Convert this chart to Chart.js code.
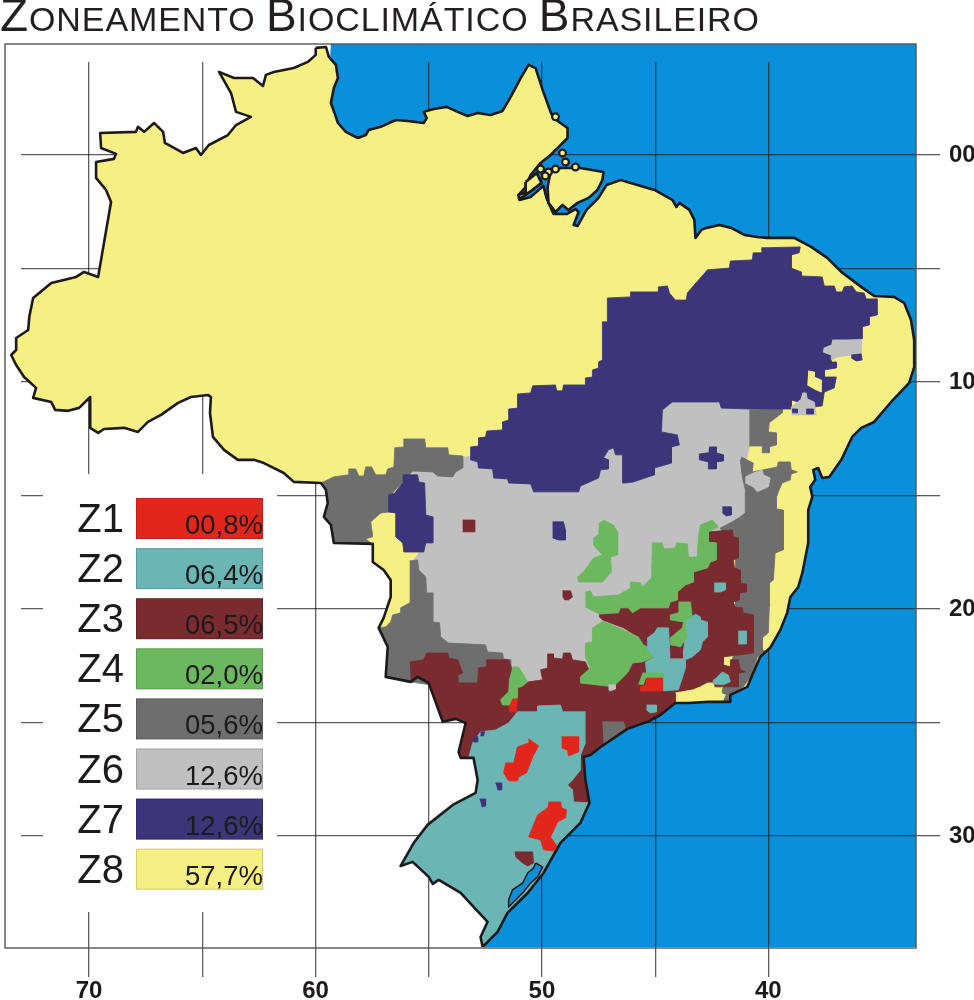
<!DOCTYPE html>
<html>
<head>
<meta charset="utf-8">
<title>Zoneamento Bioclimático Brasileiro</title>
<script src="https://cdn.jsdelivr.net/npm/chart.js@4/dist/chart.umd.min.js"></script>
<style>
  html, body { margin: 0; background: #fff; }
  #wrap { position: relative; width: 974px; height: 1000px; overflow: hidden; }
  #title { position: absolute; left: 0; top: -10px; margin: 0; white-space: nowrap; font: normal 34px/50px "Liberation Sans", sans-serif; color: #231f20; letter-spacing: 0.9px; }
  #title b { font-weight: normal; font-size: 46px; }
  canvas { position: absolute; left: 0; top: 0; }
</style>
</head>
<body>
<div id="wrap">
  <canvas id="chart1" width="974" height="1000"></canvas>
  <h1 id="title"><b>Z</b>ONEAMENTO <b>B</b>IOCLIMÁTICO <b>B</b>RASILEIRO</h1>
</div>
<script>
// legend
const zoneNames = ['Z1', 'Z2', 'Z3', 'Z4', 'Z5', 'Z6', 'Z7', 'Z8'];
const zoneShares = ['00,8%', '06,4%', '06,5%', '02,0%', '05,6%', '12,6%', '12,6%', '57,7%'];
const zoneColors = ['#e1261c', '#6bb5b5', '#7a2b30', '#6cb85f', '#6e6e6e', '#c0c0c0', '#3c3579', '#f5ef84'];

// axes, degrees west / degrees south
const lonTicks = [70, 65, 60, 55, 50, 45, 40];
const lonLabels = ['70', '', '60', '', '50', '', '40'];
const latTicks = [0, 5, 10, 15, 20, 25, 30];
const latLabels = ['00', '', '10', '', '20', '', '30'];

// every shape is [lon, lat]
const oceanShape = [[59.32,-4.89],[33.48,-4.89],[33.48,34.89],[52.62,34.89],[52.27,33.92],[51.82,31.93],[51.82,19.60],[58.66,1.98],[59.46,-2.43]];

const brazil = [[59.99,-4.72],[59.54,-4.76],[59.41,-4.32],[59.10,-3.97],[59.01,-3.39],[59.19,-2.95],[59.32,-2.29],[59.10,-1.68],[59.01,-1.41],[58.66,-1.02],[58.13,-0.75],[57.78,-0.88],[57.65,-1.10],[57.12,-1.24],[56.46,-1.54],[55.93,-1.50],[55.22,-1.41],[55.09,-1.63],[55.22,-1.90],[54.78,-2.03],[54.21,-2.12],[53.72,-1.90],[53.28,-1.72],[52.84,-1.85],[52.27,-1.76],[51.74,-1.94],[51.38,-2.56],[50.94,-3.39],[50.59,-3.97],[50.28,-3.83],[49.97,-2.87],[49.62,-1.90],[49.49,-1.63],[48.87,-1.19],[48.87,-0.75],[49.27,-0.35],[49.62,0],[50.06,0.35],[50.50,0.88],[50.72,1.41],[51.03,1.76],[50.99,1.98],[50.50,1.85],[49.93,1.36],[49.80,1.89],[49.49,2.60],[48.91,2.60],[48.52,2.38],[48.38,2.51],[48.60,3.08],[48.43,3.13],[48.03,2.42],[47.50,1.89],[47.15,1.32],[46.53,1.10],[45.78,1.32],[45.03,1.54],[44.24,1.98],[44.06,2.29],[43.93,2.11],[43.49,2.42],[43.27,2.86],[43.22,3.65],[42.96,3.30],[42.74,3.21],[42.16,3.08],[41.64,3.21],[41.06,3.52],[40.49,3.61],[40.05,3.65],[38.86,3.65],[38.11,4.05],[37.40,4.53],[36.78,5.15],[35.90,5.81],[35.33,6.21],[34.45,6.25],[34.00,6.52],[33.70,7.27],[33.56,8.15],[33.56,9.34],[33.78,10.04],[34.58,10.88],[35.33,11.76],[35.90,12.02],[36.30,12.42],[36.78,13.43],[37.31,14.18],[37.62,14.23],[37.80,13.79],[38.02,13.87],[37.93,14.31],[38.15,14.62],[38.06,15.06],[38.24,15.64],[38.24,17.09],[38.50,18.41],[38.68,19.03],[39.03,19.47],[39.17,20.17],[39.47,20.92],[39.92,21.71],[40.36,22.11],[40.67,22.82],[40.93,23.43],[41.68,23.78],[41.68,24.09],[42.12,24.09],[42.69,24.09],[43.53,24.14],[44.11,24.14],[44.77,24.67],[45.34,24.97],[46.22,25.28],[47.41,26.08],[47.86,26.43],[48.16,26.52],[48.08,27.53],[47.90,28.54],[48.30,29.42],[49.18,30.30],[49.93,31.63],[50.63,32.51],[51.52,33.39],[51.96,34.22],[52.62,34.89],[52.71,34.45],[52.40,33.78],[53.02,33.12],[53.59,32.51],[54.56,31.93],[54.82,32.11],[55.00,31.80],[55.71,31.14],[56.24,31.32],[55.66,30.30],[55.05,29.51],[53.94,28.63],[52.93,28.10],[52.84,27.53],[53.02,26.56],[53.59,26.56],[53.68,26.30],[53.37,25.02],[53.81,24.84],[54.38,24.97],[54.60,24.36],[55.00,23.26],[55.49,22.99],[55.79,23.21],[56.90,22.99],[56.81,21.67],[57.21,20.83],[56.99,20.39],[56.68,19.47],[56.68,18.72],[56.99,18.28],[57.47,17.93],[57.47,17.13],[59.19,17.09],[59.32,16.30],[59.63,15.94],[59.46,15.33],[59.54,14.75],[59.76,14.45],[60.96,14.40],[61.40,14.01],[62.28,13.57],[62.72,13.43],[63.43,13.43],[64.04,12.99],[64.53,12.42],[64.66,11.36],[64.62,10.66],[64.75,10.57],[65.50,10.66],[66.07,10.92],[66.82,11.45],[67.40,11.76],[67.84,12.20],[68.45,12.02],[69.34,12.07],[69.60,12.24],[69.95,12.02],[69.95,10.66],[70.44,11.14],[70.92,11.27],[71.50,11.23],[71.67,10.88],[72.47,10.70],[72.34,10.26],[72.87,9.78],[73.22,9.25],[73.44,8.81],[73.22,8.59],[73.22,8.06],[72.69,7.71],[72.64,7.13],[72.47,6.30],[71.67,5.64],[70.57,5.37],[70.22,5.15],[69.60,5.37],[69.03,2.07],[69.25,1.54],[69.69,1.01],[69.69,0.31],[68.90,0.17],[68.81,-0.05],[69.47,-0.31],[69.51,-0.97],[67.93,-1.02],[67.84,-1.24],[67.57,-1.02],[67.13,-1.41],[66.73,-1.02],[66.65,-0.53],[65.85,-0.09],[65.28,-0.31],[65.06,0],[64.71,-0.44],[63.87,-0.88],[63.51,-1.32],[62.85,-1.68],[63.51,-1.90],[63.73,-2.73],[64.26,-3.66],[63.60,-3.39],[62.76,-3.39],[62.32,-3.04],[62.19,-3.53],[61.84,-3.66],[60.96,-3.83],[60.34,-4.10],[59.99,-4.41],[59.99,-4.72]];
const marajo = [[49.62,0.75],[49.18,0.57],[48.30,0.57],[47.28,0.75],[47.33,1.10],[47.55,1.54],[47.94,1.89],[48.43,2.11],[48.83,2.42],[49.09,2.20],[49.40,2.51],[49.71,2.11],[49.75,1.41],[49.62,0.75]];
const gurupa = [[50.72,1.19],[50.23,0.79],[50.02,1.23],[50.41,1.54],[51.0,1.94],[51.03,1.76],[50.72,1.63],[50.72,1.19]];
const islands = [[49.40,-1.68],[49.09,-0.09],[48.96,0.31],[48.52,0.53],[49.71,0.75],[49.40,0.62],[50.06,0.62],[49.85,0.92]];
const lagoaPatos = [[50.28,31.19],[49.97,31.36],[50.19,31.80],[50.50,32.07],[50.81,32.46],[51.16,32.82],[51.47,33.12],[51.47,32.82],[51.30,32.37],[50.85,32.07],[50.63,31.63],[50.37,31.41],[50.28,31.19]];

const z6Main = [[55.79,14.31],[55.71,13.87],[53.59,13.34],[52.71,13.21],[50.06,12.77],[46.53,12.77],[45.21,10.57],[42.12,10.57],[40.80,11.01],[40.84,12.86],[41.02,13.65],[40.89,15.64],[41.46,16.43],[42.47,16.96],[43.00,19.60],[45.65,21.80],[47.41,23.34],[51.83,23.34],[54.25,22.02],[54.82,20.70],[55.35,18.94],[55.66,17.84],[55.44,17.53],[55.22,17.31]];
const z6Nordeste = [[37.18,8.15],[35.90,8.15],[35.90,8.72],[36.34,8.81],[36.96,8.90],[37.22,9.03],[37.22,8.81],[37.58,8.68],[37.53,8.50],[37.22,8.37]];
const z6Sertao = [[38.50,10.48],[38.33,10.48],[38.28,10.75],[37.97,10.88],[37.89,11.45],[38.95,11.45],[38.99,11.10],[38.59,10.79]];
const z6Bahia = [[41.02,14.18],[40.67,14.01],[40.27,13.87],[40.22,14.09],[39.92,14.23],[40.00,14.62],[40.49,14.84],[40.67,14.62],[41.02,14.45]];
const z6Minas = [[47.06,23.34],[46.75,23.34],[46.75,23.52],[46.97,23.61],[47.06,23.56]];

const z5North = [[59.76,14.45],[59.19,14.18],[58.53,14.09],[58.53,13.83],[58.22,13.83],[58.09,14.14],[57.87,14.14],[57.78,13.74],[57.52,13.74],[57.34,14.09],[56.90,14.09],[56.81,13.83],[56.54,13.74],[56.50,12.90],[56.10,12.86],[56.10,12.51],[55.18,12.51],[55.13,12.90],[54.16,12.90],[54.12,13.21],[53.50,13.26],[53.50,13.79],[53.81,13.96],[53.94,14.18],[54.60,14.14],[54.82,13.96],[55.71,13.92],[56.02,14.31],[56.68,14.97],[56.77,15.73],[57.12,15.77],[57.56,16.16],[57.47,16.82],[57.78,16.91],[57.56,17.09],[59.19,17.09],[59.32,16.30],[59.63,15.94],[59.46,15.33],[59.54,14.75]];
const z5South = [[55.84,17.88],[55.49,17.84],[55.44,18.28],[55.13,18.59],[55.09,19.29],[54.82,19.29],[54.82,20.57],[54.52,20.61],[54.47,21.23],[54.12,21.50],[52.49,21.58],[52.40,21.89],[51.74,21.94],[51.69,22.20],[51.38,22.24],[51.38,23.56],[53.59,23.56],[55.79,23.21],[56.90,22.99],[56.81,21.67],[57.21,20.83],[56.90,20.79],[56.68,20.57],[56.59,20.26],[56.24,20.17],[56.24,19.95],[55.84,19.73]];
const z5Block = [[40.84,11.23],[39.39,11.19],[39.39,11.36],[39.96,11.80],[40.00,12.20],[39.65,12.24],[39.65,12.77],[39.96,12.86],[39.96,13.12],[40.27,13.12],[40.27,12.82],[40.84,12.82]];
const z5East = [[41.19,13.30],[40.67,13.57],[40.71,13.96],[40.22,13.87],[39.61,13.74],[39.56,13.52],[39.03,13.52],[38.99,13.87],[38.72,13.96],[38.99,14.05],[39.03,14.31],[39.39,14.45],[39.56,14.84],[39.65,15.11],[39.65,15.59],[39.34,15.64],[39.34,17.40],[39.70,17.53],[39.78,18.72],[39.96,18.85],[39.96,19.91],[40.00,21.05],[40.27,21.27],[40.27,21.80],[40.05,21.89],[40.49,22.11],[40.67,22.82],[41.11,23.43],[41.64,23.78],[41.64,24.09],[42.03,24.09],[42.03,23.56],[41.46,21.80],[41.46,17.84],[42.12,16.43],[41.59,16.16],[41.24,15.94],[41.02,15.77],[41.02,14.75],[41.15,14.18],[41.24,13.43]];
const z5Parana = [[47.33,24.97],[46.40,24.97],[46.31,25.24],[47.28,25.94]];

const z7Main = [[40.31,4.09],[38.59,4.05],[38.64,4.31],[38.99,4.40],[38.99,4.98],[38.55,5.15],[38.55,5.33],[37.62,5.37],[37.53,5.77],[37.09,5.77],[37.00,6.03],[36.74,6.03],[36.65,5.81],[36.30,5.77],[36.12,6.03],[35.77,6.08],[35.68,6.34],[35.20,6.34],[35.20,7.05],[35.55,7.13],[35.55,7.49],[35.86,7.57],[35.86,8.10],[37.18,8.15],[37.22,8.37],[37.58,8.50],[37.53,8.72],[37.22,8.81],[37.22,9.12],[37.00,9.12],[37.00,9.38],[37.53,9.47],[37.53,9.78],[37.00,9.78],[37.09,10.26],[37.53,10.44],[37.62,11.05],[37.97,11.10],[38.99,10.79],[38.99,11.19],[40.84,11.19],[42.08,11.15],[42.16,10.88],[44.24,10.88],[44.68,11.23],[44.72,12.20],[44.02,12.33],[43.93,12.77],[44.28,12.86],[44.28,13.57],[45.03,13.79],[45.03,14.09],[45.96,14.40],[46.31,14.45],[46.44,14.45],[46.44,13.21],[46.75,13.21],[46.84,12.90],[47.06,12.99],[47.28,13.34],[47.06,13.43],[47.06,13.83],[47.41,13.87],[47.50,14.23],[48.30,14.58],[48.38,14.84],[50.37,14.84],[50.50,14.49],[51.47,14.45],[51.52,14.27],[52.13,14.23],[52.18,13.83],[52.80,13.79],[52.84,13.52],[53.15,13.43],[53.15,12.86],[52.80,12.82],[52.80,12.46],[52.49,12.42],[52.44,12.16],[51.74,12.11],[51.74,11.76],[51.47,11.67],[51.47,11.19],[51.08,11.15],[51.08,10.53],[50.50,10.48],[50.41,10.17],[49.40,10.13],[49.35,10.39],[49.09,10.39],[49.05,10.13],[48.08,10.13],[48.08,9.82],[47.77,9.78],[47.77,9.47],[47.50,9.38],[47.50,9.12],[47.33,9.03],[47.33,7.35],[47.11,7.35],[47.11,6.30],[46.09,6.25],[46.09,6.03],[44.86,6.03],[44.86,5.81],[44.46,5.77],[44.37,6.08],[44.11,6.39],[43.62,6.39],[43.58,6.08],[43.27,5.72],[42.96,5.37],[42.69,5.06],[41.72,4.98],[41.68,4.67],[40.71,4.62],[40.67,4.31],[40.31,4.31]];
const z7West = [[56.15,14.09],[55.49,14.09],[55.44,14.40],[55.18,14.45],[55.13,15.86],[54.82,15.94],[54.82,17.09],[55.13,17.09],[55.22,17.49],[56.10,17.49],[56.15,17.09],[56.46,16.82],[56.46,15.77],[56.77,15.73],[56.77,14.97],[56.50,14.89],[56.15,14.45]];
const z7Cross = [[42.61,12.86],[42.30,12.86],[42.30,13.12],[41.99,13.21],[41.99,13.48],[42.30,13.52],[42.30,13.83],[42.65,13.83],[42.65,13.52],[43.05,13.43],[43.05,13.17],[42.65,13.12]];
const z7Goias = [[49.53,16.16],[49.05,16.16],[48.96,16.52],[48.96,16.96],[49.27,16.96],[49.53,16.87]];
const z7Minas = [[42.03,15.50],[41.64,15.50],[41.64,15.86],[41.86,15.90],[42.03,15.77]];
const z7Dot1 = [[52.05,27.66],[51.78,27.66],[51.78,27.97],[51.96,27.97]];
const z7Dot2 = [[52.75,28.37],[52.49,28.37],[52.49,28.68],[52.66,28.72]];
const z7Dot3 = [[53.02,25.63],[52.84,25.63],[52.84,25.86],[53.02,25.86]];
const z7Dot4 = [[52.71,25.41],[52.53,25.41],[52.58,25.59],[52.71,25.59]];
const z7Dot5 = [[36.34,8.81],[35.90,8.76],[35.86,9.03],[36.12,9.07],[36.34,8.94]];
const z7Dot6 = [[38.95,11.19],[38.72,11.19],[38.72,11.36],[38.95,11.36]];
const z7Dot7 = [[38.33,11.19],[38.02,11.19],[38.02,11.41],[38.33,11.41]];

const z8Notch = [[38.24,9.51],[37.97,9.56],[37.97,9.78],[37.67,9.91],[37.67,10.44],[37.89,10.35],[38.28,10.13]];
const z8Rio = [[44.11,23.70],[43.32,23.56],[43.00,23.43],[42.69,23.26],[42.43,23.26],[42.34,23.65],[41.90,23.78],[42.03,24.09],[42.69,24.09],[43.53,24.14],[43.88,24.00]];

const z3Main = [[55.84,22.33],[55.22,22.24],[55.09,21.94],[54.16,21.94],[54.12,22.16],[53.72,22.24],[53.50,22.82],[53.72,22.91],[53.68,23.26],[52.84,23.26],[52.80,22.60],[52.44,22.55],[52.44,22.24],[51.47,22.24],[51.03,23.48],[50.59,23.21],[49.97,23.12],[50.06,22.68],[49.75,22.60],[49.75,21.98],[49.49,21.98],[49.49,22.16],[49.09,22.20],[49.05,21.94],[48.74,21.94],[48.65,22.24],[48.08,22.33],[47.86,22.82],[46.97,22.24],[46.09,21.36],[45.74,21.23],[46.40,20.83],[47.33,20.48],[47.46,20.35],[47.46,20.22],[46.62,20.17],[46.53,19.95],[46.18,19.95],[46.00,20.17],[45.65,19.95],[44.41,19.95],[44.33,19.69],[44.02,19.60],[44.02,19.25],[43.66,18.94],[43.31,18.81],[43.31,18.37],[42.69,18.19],[42.56,17.93],[42.30,17.84],[42.30,17.09],[42.65,17.05],[42.65,16.60],[41.59,16.52],[41.55,16.82],[41.33,16.87],[41.33,17.75],[41.55,17.84],[41.50,18.19],[41.24,18.28],[41.24,18.85],[40.97,18.90],[40.97,19.25],[41.28,19.29],[41.28,19.60],[41.55,19.69],[41.46,19.91],[41.15,19.95],[41.11,20.17],[40.67,20.26],[40.67,21.94],[41.99,22.11],[41.99,22.46],[41.68,22.55],[41.68,22.24],[41.33,22.24],[41.24,22.68],[41.02,22.77],[41.33,22.82],[41.33,23.43],[42.34,23.43],[44.11,23.70],[44.11,24.14],[44.77,24.67],[45.34,24.97],[46.22,25.28],[47.41,26.08],[47.86,26.43],[48.16,26.52],[48.08,27.53],[47.90,28.54],[48.60,28.50],[48.65,27.97],[48.87,27.75],[48.65,27.53],[48.30,27.09],[48.30,26.43],[48.08,25.90],[48.08,24.53],[49.09,24.53],[49.18,24.23],[50.19,24.27],[50.19,24.53],[51.08,24.53],[51.47,25.02],[52.05,25.33],[52.71,25.41],[53.06,25.90],[53.24,26.56],[53.59,26.56],[53.68,26.30],[53.37,25.02],[53.81,24.84],[54.38,24.97],[54.60,24.36],[55.00,23.26],[55.49,22.99],[55.79,23.21]];
const z3Lagoa = [[51.21,30.70],[50.41,30.70],[50.37,31.19],[50.63,31.32],[50.85,31.19],[51.16,30.92]];
const z3Dot1 = [[53.50,16.08],[52.97,16.08],[52.97,16.60],[53.50,16.60]];
const z3Dot2 = [[49.09,19.20],[48.74,19.20],[48.65,19.47],[48.83,19.60],[49.00,19.60],[49.09,19.42]];
const z3Notch = [[44.33,21.67],[44.02,21.67],[43.80,21.94],[43.80,22.16],[44.33,22.16]];

const z4Lower = [[47.33,20.53],[46.40,20.92],[45.74,21.23],[45.52,21.58],[45.08,21.80],[45.08,22.11],[45.56,22.33],[46.00,22.38],[46.22,22.82],[46.84,23.43],[48.30,23.26],[48.30,22.99],[47.86,22.60],[48.08,22.11],[48.08,21.50],[47.77,21.45],[47.77,20.83]];
const z4Upper = [[48.08,19.25],[47.86,19.20],[47.72,19.47],[46.62,19.38],[46.09,19.07],[46.09,18.81],[45.65,18.85],[45.56,19.03],[45.16,18.63],[45.12,17.09],[44.68,17.09],[44.63,17.35],[44.11,17.31],[44.06,17.09],[43.58,17.13],[43.53,17.71],[43.14,17.71],[43.09,16.82],[43.00,16.30],[42.47,16.08],[42.21,16.39],[42.65,16.60],[42.65,17.05],[42.30,17.09],[42.30,17.84],[42.56,17.93],[42.69,18.19],[43.31,18.37],[43.31,18.81],[43.66,18.94],[44.02,19.25],[44.02,19.60],[44.33,19.69],[44.41,19.95],[45.65,19.95],[46.00,20.17],[46.18,19.95],[46.53,19.95],[46.62,20.17],[47.46,20.22],[48.08,19.91]];
const z4Blob = [[47.28,16.08],[46.84,16.30],[46.66,16.60],[46.66,17.62],[46.97,17.71],[46.93,18.37],[47.33,18.81],[48.38,18.81],[48.43,18.59],[48.16,18.37],[47.72,17.75],[47.33,17.62],[47.72,17.18],[47.72,16.87],[47.50,16.74],[47.46,16.21]];
const z4West = [[51.30,22.55],[51.03,22.55],[50.63,23.21],[50.85,23.39],[51.08,23.48],[51.08,23.92],[51.38,24.23],[51.74,24.23],[51.83,24.00],[51.47,23.65],[51.43,23.04]];
const z4Inner = [[43.97,19.69],[43.44,19.69],[43.36,20.35],[43.66,20.48],[43.66,20.70],[43.58,21.23],[43.88,21.67],[44.33,21.58],[44.33,21.27],[43.80,20.83],[43.75,20.57],[44.33,20.48],[44.33,20.26],[43.97,20.17]];
const z4Sul = [[45.56,22.82],[44.68,22.82],[44.68,23.12],[45.43,23.04],[45.52,23.34],[45.74,23.30]];

const z2Main = [[43.22,20.22],[43.00,20.35],[43.00,20.48],[42.69,20.57],[42.69,21.23],[42.91,21.45],[43.00,21.80],[43.36,22.11],[43.66,22.24],[43.66,22.60],[43.97,23.56],[44.63,23.61],[44.63,22.82],[45.38,22.82],[45.43,22.33],[45.03,22.11],[45.34,21.80],[45.34,21.27],[45.03,21.05],[44.90,20.83],[44.41,20.83],[44.33,22.16],[43.80,22.16],[43.66,21.23],[43.66,20.48]];
const z2South = [[48.08,24.53],[49.09,24.53],[49.18,24.23],[50.19,24.27],[50.19,24.53],[51.08,24.53],[51.47,25.02],[52.05,25.33],[52.71,25.41],[53.06,25.90],[53.24,26.56],[53.02,26.56],[52.84,27.53],[52.93,28.10],[53.94,28.63],[55.05,29.51],[55.66,30.30],[56.24,31.32],[55.71,31.14],[55.00,31.80],[54.82,32.11],[54.56,31.93],[53.59,32.51],[53.02,33.12],[52.40,33.78],[52.71,34.45],[52.62,34.89],[51.96,34.22],[51.52,33.39],[50.63,32.51],[49.93,31.63],[49.18,30.30],[48.30,29.42],[47.90,28.54],[48.60,28.50],[48.65,27.97],[48.87,27.75],[48.65,27.53],[48.30,27.09],[48.30,26.43],[48.08,25.90]];
const z2Spot1 = [[42.39,18.85],[41.90,18.85],[41.90,19.16],[42.12,19.25],[42.39,19.25]];
const z2Spot2 = [[41.33,20.97],[40.97,20.97],[40.97,21.54],[41.33,21.54]];
const z2Spot3 = [[42.25,22.99],[42.03,22.77],[41.77,22.91],[41.68,23.21],[41.99,23.34],[42.43,23.30],[42.43,23.12]];
const z2Spot4 = [[45.38,24.23],[44.94,24.23],[44.94,24.53],[45.21,24.58],[45.38,24.45]];

const z1Parana = [[50.59,25.72],[50.15,26.03],[50.41,26.52],[50.68,27.22],[51.03,27.40],[51.08,27.57],[51.47,27.57],[51.69,27.22],[51.60,26.78],[51.25,26.78],[51.08,26.08],[50.59,25.90]];
const z1Curitiba = [[49.13,25.63],[48.38,25.63],[48.38,26.30],[48.83,26.47],[48.87,26.21],[49.13,26.12]];
const z1Serra = [[49.71,28.50],[49.18,28.50],[49.13,28.76],[48.91,28.85],[48.96,29.20],[49.31,29.38],[49.62,30.04],[49.31,30.48],[49.49,30.66],[49.93,30.61],[50.06,30.17],[50.59,30.04],[50.19,29.07],[49.75,28.76]];
const z1Oeste = [[51.30,23.96],[51.08,23.96],[51.12,24.53],[51.43,24.53],[51.43,24.23]];
const z1Mantiqueira = [[45.38,23.04],[44.68,23.04],[44.68,23.61],[45.65,23.61],[45.65,23.43],[45.43,23.34]];

// paint order, first one is at the bottom
const zoneLayers = [
    [5, z6Main], [4, z5North], [4, z5South], [4, z5Block], [4, z5East],
    [6, z7Main], [6, z7West], [6, z7Cross], [6, z7Goias], [6, z7Minas],
    [5, z6Nordeste], [5, z6Sertao], [5, z6Bahia], [7, z8Notch],
    [6, z7Dot5], [6, z7Dot6], [6, z7Dot7],
    [2, z3Main], [3, z4Lower], [3, z4Upper], [3, z4Blob], [3, z4West],
    [1, z2Main], [1, z2South], [1, z2Spot1], [1, z2Spot2], [1, z2Spot4],
    [3, z4Inner], [3, z4Sul], [2, z3Notch], [2, z3Lagoa], [2, z3Dot1], [2, z3Dot2],
    [5, z6Minas], [4, z5Parana], [7, z8Rio], [1, z2Spot3],
    [6, z7Dot1], [6, z7Dot2], [6, z7Dot3], [6, z7Dot4],
    [0, z1Parana], [0, z1Curitiba], [0, z1Serra], [0, z1Oeste], [0, z1Mantiqueira],
];

const oceanColor = '#0a90da';
const inkColor = '#1d1a1b';

function toPoints(shape) {
    return shape.map(function (p) { return { x: p[0], y: p[1] }; });
}

function tracePolygon(chart, shape) {
    const ctx = chart.ctx;
    ctx.beginPath();
    shape.forEach(function (p, i) {
        const px = chart.scales.x.getPixelForValue(p[0]);
        const py = chart.scales.y.getPixelForValue(p[1]);
        if (i === 0) ctx.moveTo(px, py); else ctx.lineTo(px, py);
    });
    ctx.closePath();
}

const datasets = [];

function addShape(shape, fillColor, lineColor, lineWidth) {
    datasets.push({
        data: toPoints(shape),
        backgroundColor: fillColor,
        borderColor: lineColor,
        borderWidth: lineWidth,
        borderJoinStyle: 'round',
        fill: fillColor ? 'shape' : false,
        pointRadius: 0,
        tension: 0,
    });
}

addShape(brazil, zoneColors[7], zoneColors[7], 0);
zoneLayers.forEach(function (layer) {
    addShape(layer[1], zoneColors[layer[0]], zoneColors[layer[0]], 0.8);
});
addShape(brazil, null, inkColor, 2.6);
addShape(lagoaPatos, oceanColor, inkColor, 1.6);
addShape(marajo, zoneColors[7], inkColor, 2.6);
addShape(gurupa, zoneColors[7], inkColor, 2.8);
datasets.push({
    data: toPoints(islands),
    showLine: false,
    pointRadius: 3.4,
    pointBackgroundColor: zoneColors[7],
    pointBorderColor: inkColor,
    pointBorderWidth: 2.2,
});
// later datasets have to land on top
datasets.forEach(function (d, i) { d.order = datasets.length - i; });

const mapBackdrop = {
    id: 'mapBackdrop',
    beforeDraw(chart) {
        const ctx = chart.ctx;
        ctx.save();
        ctx.fillStyle = oceanColor;
        tracePolygon(chart, oceanShape);
        ctx.fill();
        ctx.restore();
    },
    // the graticule stops short of the frame and leaves room for the legend
    beforeDatasetsDraw(chart) {
        const ctx = chart.ctx;
        ctx.save();
        ctx.fillStyle = '#fff';
        ctx.fillRect(5, 474, 16, 500);
        ctx.fillRect(5, 44, 16, 430);
        ctx.fillRect(43, 474, 234, 438);
        ctx.fillRect(5, 44, 911, 18);
        ctx.beginPath();
        ctx.rect(5, 44, 911, 18);
        ctx.clip();
        ctx.fillStyle = oceanColor;
        tracePolygon(chart, oceanShape);
        ctx.fill();
        ctx.restore();

        ctx.save();
        ctx.strokeStyle = '#555';
        ctx.lineWidth = 1.4;
        ctx.strokeRect(5, 44, 911, 904);
        ctx.restore();
    },
    afterDatasetsDraw(chart) {
        const ctx = chart.ctx;
        ctx.save();
        zoneNames.forEach(function (name, i) {
            const top = 498 + i * 50.1;
            ctx.fillStyle = zoneColors[i];
            ctx.fillRect(136, top, 127, 41);
            ctx.strokeStyle = 'rgba(0,0,0,.15)';
            ctx.lineWidth = 1;
            ctx.strokeRect(136.5, top + 0.5, 126, 40);
            ctx.fillStyle = inkColor;
            ctx.textAlign = 'right';
            ctx.textBaseline = 'alphabetic';
            ctx.font = '40px "Liberation Sans"';
            ctx.fillText(name, 124, top + 34);
            ctx.font = '27.5px "Liberation Sans"';
            ctx.fillText(zoneShares[i], 263, top + 36);
        });
        ctx.restore();
    },
};

const tickFont = { family: '"Liberation Sans"', size: 24, weight: 'bold' };

new Chart(document.getElementById('chart1').getContext('2d'), {
    type: 'line',
    data: { datasets: datasets },
    plugins: [mapBackdrop],
    options: {
        responsive: false,
        animation: false,
        events: [],
        layout: { padding: { left: 5, top: 44 } },
        plugins: { legend: { display: false }, tooltip: { enabled: false }, title: { display: false } },
        scales: {
            x: {
                type: 'linear',
                reverse: true,
                min: 33.48,
                max: 73.66,
                afterBuildTicks(scale) { scale.ticks = lonTicks.map(function (v) { return { value: v }; }); },
                afterFit(scale) { scale.height = 53; },
                border: { display: false },
                grid: { color: 'rgba(30,30,30,.72)', lineWidth: 1.3, tickLength: 30 },
                ticks: {
                    autoSkip: false,
                    maxRotation: 0,
                    padding: 0,
                    color: inkColor,
                    font: tickFont,
                    callback(value, index) { return lonLabels[index]; },
                },
            },
            y: {
                type: 'linear',
                position: 'right',
                reverse: true,
                min: -4.89,
                max: 34.89,
                afterBuildTicks(scale) { scale.ticks = latTicks.map(function (v) { return { value: v }; }); },
                afterFit(scale) { scale.width = 58; },
                border: { display: false },
                grid: { color: 'rgba(30,30,30,.72)', lineWidth: 1.3, tickLength: 24 },
                ticks: {
                    autoSkip: false,
                    padding: 9,
                    color: inkColor,
                    font: tickFont,
                    callback(value, index) { return latLabels[index]; },
                },
            },
        },
    },
});
</script>
</body>
</html>
